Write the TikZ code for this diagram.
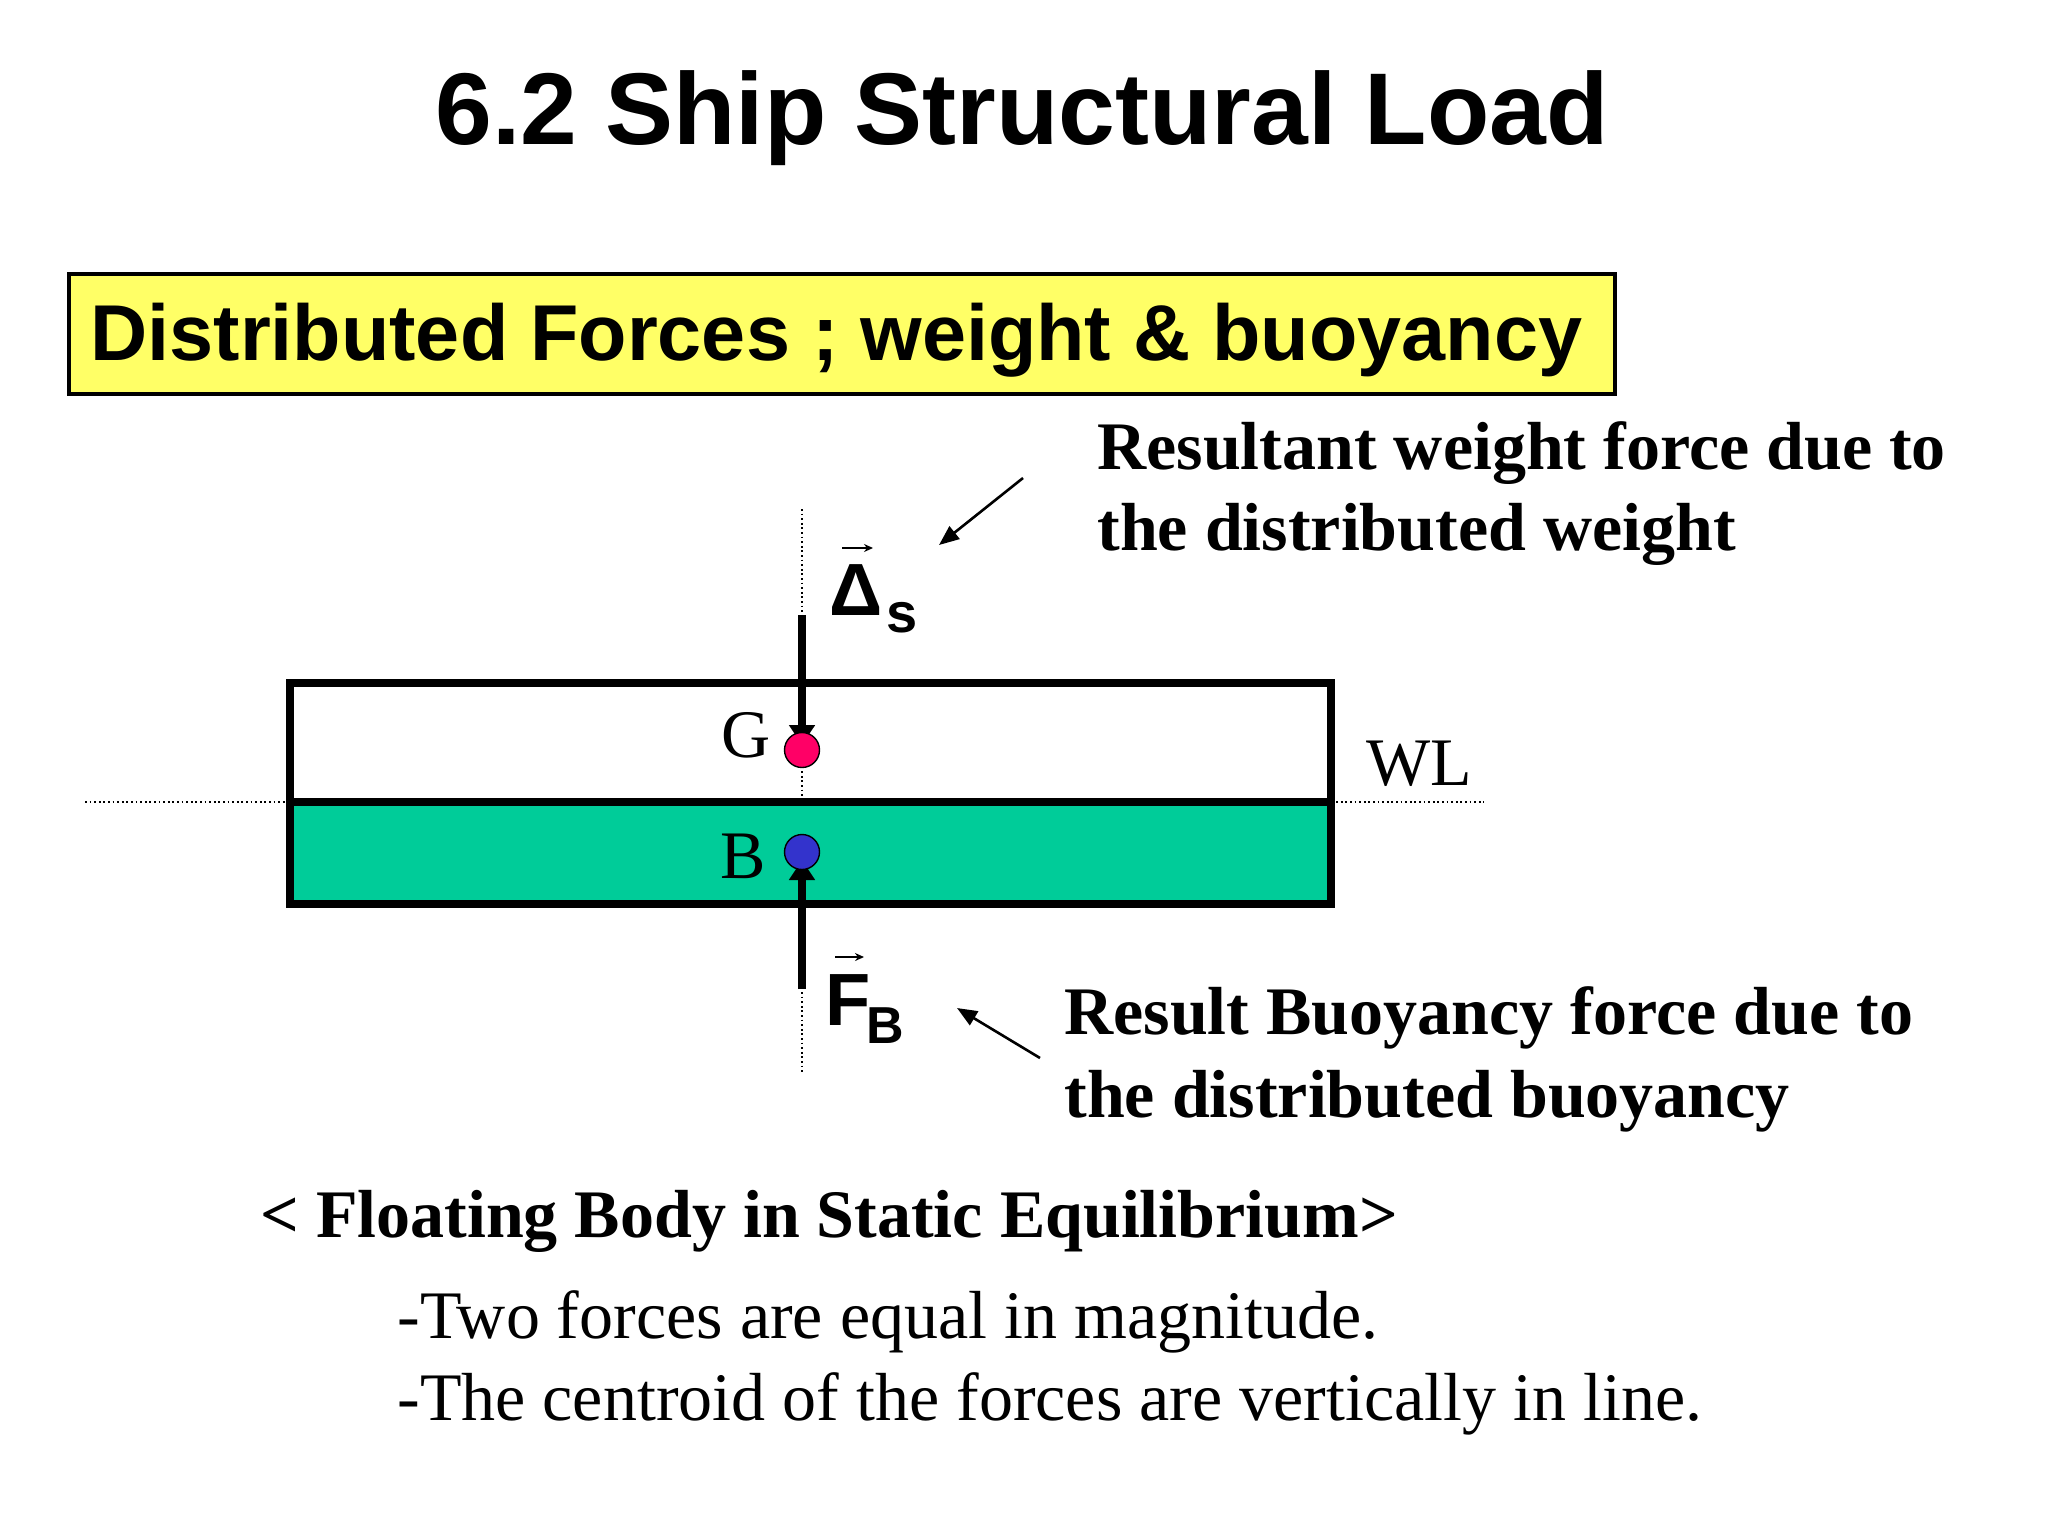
\documentclass[tikz,border=0pt]{standalone}
\usepackage{fontspec}
\setmainfont{Liberation Serif}
\newfontfamily\arialb{Liberation Sans}[BoldFont={* Bold}]
\usetikzlibrary{arrows.meta}
\definecolor{seagreen}{RGB}{0,204,153}
\definecolor{gred}{RGB}{255,0,102}
\definecolor{bblue}{RGB}{51,51,204}
\definecolor{lyellow}{RGB}{255,255,102}
\tikzset{
  txt/.style={inner sep=0pt, anchor=base west},
  serifb/.style={txt, font=\fontsize{34}{40}\selectfont\bfseries},
  serifr/.style={txt, font=\fontsize{34}{40}\selectfont},
  dotline/.style={line width=0.9pt, dash pattern=on 0.9pt off 1.4pt},
  force/.style={line width=4pt, -{Triangle[length=10pt,width=12.5pt]}},
  pointer/.style={line width=1.3pt, -{Triangle[length=10pt,width=8pt]}},
  vecarrow/.style={line width=0.8pt, -{Stealth[length=4.5pt,width=4pt]}},
  dot/.style={circle, draw=black, line width=0.7pt, minimum size=17.5pt, inner sep=0pt}
}
\begin{document}
\begin{tikzpicture}[x=0.5pt,y=-0.5pt]
\useasboundingbox (0,0) rectangle (2048,1536);
% title
\node[txt, font=\fontsize{51}{60}\selectfont\arialb\bfseries] (title) at (435,144) {6.2 Ship Structural Load};
% yellow box
\draw[fill=lyellow, line width=2pt] (69,273.5) rectangle (1615,394);
\node[txt, font=\fontsize{39.6}{48}\selectfont\arialb\bfseries] (dist) at (90,360) {Distributed Forces ; weight \& buoyancy};
% dotted lines
\draw[dotline] (85,802) -- (1484,802);
\draw[dotline] (802,509) -- (802,1073);
% hull
\fill[seagreen] (290,802) rectangle (1331,904);
\draw[line width=4pt, line join=miter] (290,682.5) rectangle (1331,904);
\draw[line width=4pt] (290,802) -- (1331,802);
% centres
\coordinate (gc) at (802,750);
\coordinate (bc) at (802,852);
\coordinate (wtop) at (802,615);
\coordinate (bbot) at (802,989);
\draw[force, shorten >=2.5pt] (wtop) -- (gc);
\draw[force, shorten >=4pt] (bbot) -- (bc);
\node[dot, fill=gred] (G) at (gc) {};
\node[dot, fill=bblue] (B) at (bc) {};
\node[serifr, anchor=base east] (Glab) at (771,757) {G};
\node[serifr, anchor=base east] (Blab) at (766,878) {B};
\node[serifr] (WL) at (1366,785) {WL};
% force labels
\node[txt, font=\fontsize{37}{44}\selectfont\arialb\bfseries] (Delta) at (829,615) {Δ};
\node[txt, font=\fontsize{28}{32}\selectfont\arialb\bfseries] (s) at (886,632) {s};
\coordinate (dva) at (842,548);
\coordinate (dvb) at (873,548);
\draw[vecarrow] (dva) -- (dvb);
\node[txt, font=\fontsize{37}{44}\selectfont\arialb\bfseries] (F) at (825,1025) {F};
\node[txt, font=\fontsize{26}{30}\selectfont\arialb\bfseries] (Bsub) at (866,1043) {B};
\coordinate (fva) at (835,957);
\coordinate (fvb) at (864,957);
\draw[vecarrow] (fva) -- (fvb);
% descriptions
\node[serifb] (r1) at (1097,469) {Resultant weight force due to};
\node[serifb] (r2) at (1097,550) {the distributed weight};
\coordinate (p1a) at (1023,478);
\coordinate (p1b) at (939,545);
\draw[pointer] (p1a) -- (p1b);
\node[serifb] (b1) at (1064,1034) {Result Buoyancy force due to};
\node[serifb] (b2) at (1064,1117) {the distributed buoyancy};
\coordinate (p2a) at (1040,1058);
\coordinate (p2b) at (957,1008);
\draw[pointer] (p2a) -- (p2b);
% bottom text
\node[serifb] (eq) at (260,1237) {< Floating Body in Static Equilibrium>};
\node[serifr] (l1) at (397,1338) {-Two forces are equal in magnitude.};
\node[serifr] (l2) at (397,1420) {-The centroid of the forces are vertically in line.};
\end{tikzpicture}
\end{document}
